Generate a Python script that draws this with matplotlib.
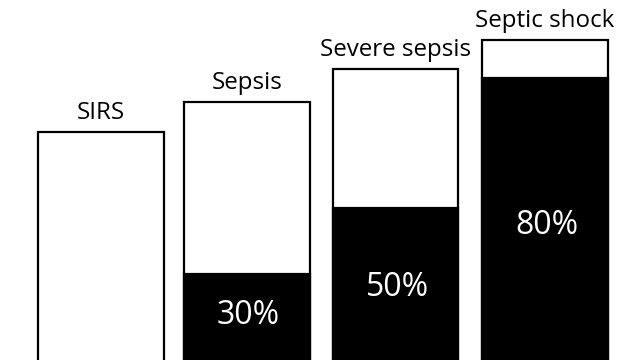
import matplotlib.pyplot as plt

stages = ["SIRS", "Sepsis", "Severe sepsis", "Septic shock"]
bar_heights = [228, 258, 291, 320]   # visible height of each box (px units)
dark_heights = [0, 86, 152, 282]     # height of black part
pct_labels = ["", "30%", "50%", "80%"]
pct_label_y = [0, 44, 73, 134]

plt.rcParams['font.family'] = ['Open Sans', 'DejaVu Sans']

fig = plt.figure(figsize=(6.4, 3.6), dpi=100)
ax = fig.add_axes([0, 0, 1, 1])

x = [0, 0.985, 1.99, 3.0]
w = 0.85
base = -10

ax.bar(x, [h - base for h in bar_heights], bottom=base, width=w,
       color='white', edgecolor='black', linewidth=1.6, zorder=1)
ax.bar(x, [d - base if d > 0 else 0 for d in dark_heights], bottom=base, width=w,
       color='black', edgecolor='black', linewidth=1.6, zorder=2)

for i, xi in enumerate(x):
    ax.text(xi, bar_heights[i] + 7, stages[i], ha='center', va='bottom',
            fontsize=17.4, color='black')
    if pct_labels[i]:
        ax.text(xi + 0.01, pct_label_y[i], pct_labels[i], ha='center', va='center',
                fontsize=23, color='white')

ax.set_xlim(-101 / 148, (640 - 101) / 148)
ax.set_ylim(0, 360)
ax.axis('off')

plt.savefig('out.png', dpi=100)
plt.close()
